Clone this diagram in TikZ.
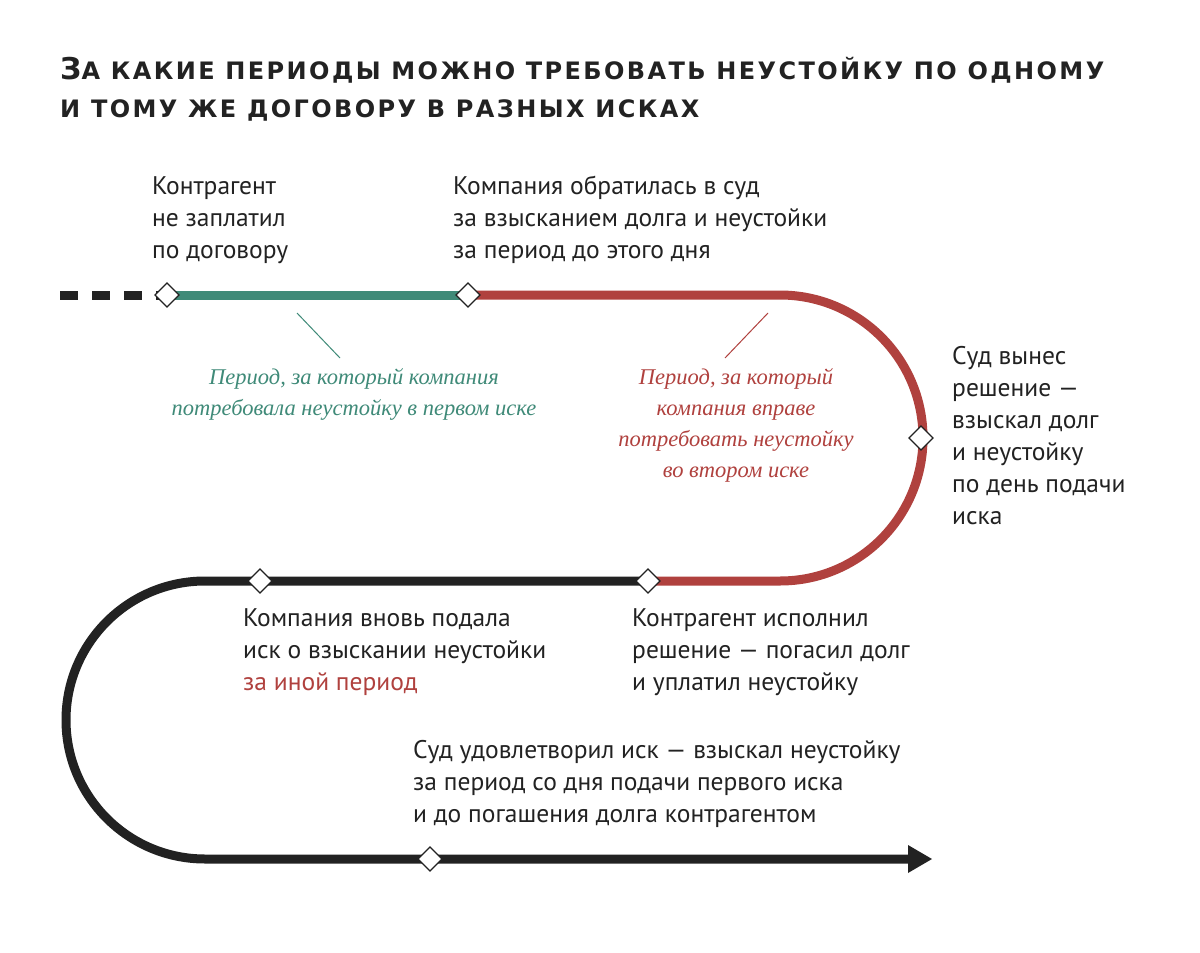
\documentclass[tikz,border=0pt]{standalone}
\usepackage{fontspec}
\setmainfont{PT Sans}
\newfontfamily\titlefont[LetterSpace=10]{DejaVu Sans}
\newfontfamily\itserif{Liberation Serif}
\usetikzlibrary{arrows.meta}
\definecolor{tgreen}{HTML}{3F8A78}
\definecolor{tred}{HTML}{B0413E}
\definecolor{tblack}{HTML}{222222}
\begin{document}
\begin{tikzpicture}[x=1pt,y=-1pt,
  trk/.style={line width=9pt},
  dia/.style={draw=tblack,fill=white,line width=1.3pt,inner sep=0pt,rotate=45,shape=rectangle,minimum width=17pt,minimum height=17pt},
  lbl/.style={anchor=north west,align=left,font=\fontsize{25.5}{32}\selectfont,text=tblack,inner sep=0pt},
  itl/.style={align=center,font=\itserif\itshape\fontsize{22.5}{31}\selectfont,inner sep=0pt}]
\useasboundingbox (0,0) rectangle (1200,953);
\fill[white] (0,0) rectangle (1200,953);
\node[anchor=west,inner sep=0pt,font=\titlefont\bfseries\fontsize{24}{38}\selectfont,align=left,text=tblack] (title) at (60,89)
 {{\fontsize{30}{38}\selectfont З}А КАКИЕ ПЕРИОДЫ МОЖНО ТРЕБОВАТЬ НЕУСТОЙКУ ПО ОДНОМУ\\И ТОМУ ЖЕ ДОГОВОРУ В РАЗНЫХ ИСКАХ};
\coordinate (s0) at (60,295);
\coordinate (e) at (932,859);
\node[dia,draw=none] (d1) at (167,295) {};
\node[dia,draw=none] (d2) at (468,295) {};
\node[dia,draw=none] (d3) at (921,438) {};
\node[dia,draw=none] (d4) at (648,581) {};
\node[dia,draw=none] (d5) at (260,581) {};
\node[dia,draw=none] (d6) at (430,859) {};
\draw[trk,tblack,dash pattern=on 18pt off 14pt] (s0) -- (d1.center);
\draw[trk,tgreen] (d1.center) -- (d2.center);
\draw[trk,tred] (d2.center) -- (780,295) arc[start angle=-90,end angle=90,radius=143] -- (d4.center);
\draw[trk,tblack] (d4.center) -- (205,581) arc[start angle=-90,end angle=-270,radius=139] -- (915,859);
\fill[tblack] (e) -- (908,845) -- (908,873) -- cycle;
\foreach \n in {d1,d2,d3,d4,d5,d6}{\node[dia] at (\n) {};}
\node[lbl] (t1) at (152,176) {Контрагент\\не заплатил\\по договору};
\node[lbl] (t2) at (453,176) {Компания обратилась в суд\\за взысканием долга и неустойки\\за период до этого дня};
\node[lbl] (t3) at (952,346) {Суд вынес\\решение —\\взыскал долг\\и неустойку\\по день подачи\\иска};
\node[lbl] (t4) at (243,608) {Компания вновь подала\\иск о взыскании неустойки\\\textcolor{tred}{за иной период}};
\node[lbl] (t5) at (632,608) {Контрагент исполнил\\решение — погасил долг\\и уплатил неустойку};
\node[lbl] (t6) at (413,740) {Суд удовлетворил иск — взыскал неустойку\\за период со дня подачи первого иска\\и до погашения долга контрагентом};
\node[itl,text=tgreen,anchor=north] (g) at (354,368) {Период, за который компания\\потребовала неустойку в первом иске};
\node[itl,text=tred,anchor=north] (r) at (736,368) {Период, за который\\компания вправе\\потребовать неустойку\\во втором иске};
\coordinate (gl1) at (297,313); \coordinate (gl2) at (340,358);
\coordinate (rl1) at (768,313); \coordinate (rl2) at (725,358);
\draw[tgreen,line width=1pt] (gl1) -- (gl2);
\draw[tred,line width=1pt] (rl1) -- (rl2);
\end{tikzpicture}
\end{document}
